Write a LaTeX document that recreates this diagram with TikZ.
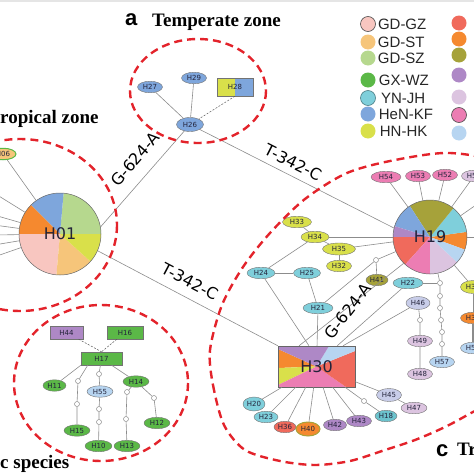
\documentclass[tikz,border=0pt]{standalone}
\usepackage{fontspec}
\setmainfont{Liberation Serif}
\setsansfont{Liberation Sans}
\newfontfamily\hapfont{DejaVu Sans}
\usepackage{tikz}
\usetikzlibrary{shapes.geometric, positioning}
\definecolor{gzpink}{HTML}{F8C6C0}
\definecolor{stpeach}{HTML}{F6C57A}
\definecolor{szgreen}{HTML}{B6D88E}
\definecolor{wzgreen}{HTML}{5BB847}
\definecolor{jhcyan}{HTML}{7FCFDB}
\definecolor{kfblue}{HTML}{7EA6DC}
\definecolor{hkyellow}{HTML}{D9E04A}
\definecolor{popred}{HTML}{F06A5C}
\definecolor{poporange}{HTML}{F5892F}
\definecolor{popolive}{HTML}{A6A23A}
\definecolor{poppurple}{HTML}{AE88C6}
\definecolor{poplilac}{HTML}{DCC4E0}
\definecolor{poppink}{HTML}{EC7DB3}
\definecolor{popsky}{HTML}{B7D5F1}
\definecolor{zonered}{HTML}{E3232B}
\definecolor{linkgray}{HTML}{8C8C8C}
\definecolor{textdark}{HTML}{23233A}

\begin{document}
\begin{tikzpicture}[x=1pt, y=-1pt,
    hap/.style={ellipse, draw=black!55, line width=0.4pt, inner sep=0pt,
      minimum width=25pt, minimum height=11.5pt, text=textdark,
      font=\hapfont\fontsize{7}{7}\selectfont},
    hapbox/.style={hap, rectangle, minimum width=36pt, minimum height=13pt},
    bighap/.style={draw=black!60, line width=0.5pt, inner sep=0pt, text=textdark,
      font=\hapfont\fontsize{16}{16}\selectfont},
    mv/.style={circle, draw=linkgray, fill=white, line width=0.5pt, inner sep=0pt, minimum size=5pt},
    link/.style={draw=linkgray, line width=0.6pt},
    dlink/.style={draw=black!65, line width=0.5pt, dash pattern=on 2pt off 1.5pt},
    zone/.style={draw=zonered, line width=2.4pt, dash pattern=on 8pt off 5pt},
    mut/.style={font=\hapfont\fontsize{16}{16}\selectfont, sloped, inner sep=1pt},
    legdot/.style={circle, inner sep=0pt, minimum size=15pt},
    legtext/.style={inner sep=0pt, text=black!85, font=\sffamily\fontsize{15}{15}\selectfont},
    ztitle/.style={anchor=base west, inner sep=0pt, font=\rmfamily\bfseries\fontsize{19}{19}\selectfont},
    panel/.style={anchor=base west, inner sep=0pt, font=\sffamily\bfseries\fontsize{22}{22}\selectfont}]
  \useasboundingbox (0,0) rectangle (474,474);
  \fill[black!10] (0,0) rectangle (474,2);

  % titles
  \node (ta) [panel] at (125,25) {a};
  \node (ttemp) [ztitle] at (152,26) {Temperate zone};
  \node (ttrop) [ztitle] at (0,123) {ropical zone};
  \node (tend) [ztitle] at (0,468) {c species};
  \node (tc) [panel] at (436,456) {c};
  \node (ttr) [ztitle] at (457,455) {Tr};

  % legend
  \node (lgz) [legdot, fill=gzpink, draw=black!70, line width=0.6pt] at (368,24) {};
  \node (lst) [legdot, fill=stpeach] at (368,42) {};
  \node (lsz) [legdot, fill=szgreen] at (368,58) {};
  \node (lwz) [legdot, fill=wzgreen] at (368,80) {};
  \node (ljh) [legdot, fill=jhcyan, draw=jhcyan!60!black, line width=0.6pt] at (368,98) {};
  \node (lkf) [legdot, fill=kfblue] at (368,114) {};
  \node (lhk) [legdot, fill=hkyellow] at (368,131) {};
  \node [legtext, right=2pt of lgz] {GD-GZ};
  \node [legtext, right=2pt of lst] {GD-ST};
  \node [legtext, right=2pt of lsz] {GD-SZ};
  \node [legtext, right=3pt of lwz] {GX-WZ};
  \node [legtext, right=5pt of ljh] {YN-JH};
  \node [legtext, right=3pt of lkf] {HeN-KF};
  \node [legtext, right=4pt of lhk] {HN-HK};
  \node (ld1) [legdot, fill=popred] at (459,23) {};
  \node (ld2) [legdot, fill=poporange] at (459,39) {};
  \node (ld3) [legdot, fill=popolive] at (459,55) {};
  \node (ld4) [legdot, fill=poppurple] at (459,75) {};
  \node (ld5) [legdot, fill=poplilac] at (459,97) {};
  \node (ld6) [legdot, fill=poppink, draw=black!70, line width=0.6pt] at (459,115) {};
  \node (ld7) [legdot, fill=popsky] at (459,133) {};

  % H01 pie
  \coordinate (c01) at (60,234);
  \fill[szgreen] (c01) -- ++(0:41pt) arc[start angle=0, end angle=85, radius=41pt] -- cycle;
  \fill[kfblue] (c01) -- ++(85:41pt) arc[start angle=85, end angle=135, radius=41pt] -- cycle;
  \fill[poporange] (c01) -- ++(135:41pt) arc[start angle=135, end angle=180, radius=41pt] -- cycle;
  \fill[gzpink] (c01) -- ++(180:41pt) arc[start angle=180, end angle=265, radius=41pt] -- cycle;
  \fill[stpeach] (c01) -- ++(265:41pt) arc[start angle=265, end angle=318, radius=41pt] -- cycle;
  \fill[hkyellow] (c01) -- ++(318:41pt) arc[start angle=318, end angle=360, radius=41pt] -- cycle;
  \node (h01) [bighap, circle, minimum size=82pt] at (c01) {H01};

  % H19 pie
  \coordinate (c19) at (430,237);
  \fill[poporange] (c19) -- ++(-20:37pt) arc[start angle=-20, end angle=8, radius=37pt] -- cycle;
  \fill[jhcyan] (c19) -- ++(8:37pt) arc[start angle=8, end angle=51, radius=37pt] -- cycle;
  \fill[popolive] (c19) -- ++(51:37pt) arc[start angle=51, end angle=123, radius=37pt] -- cycle;
  \fill[kfblue] (c19) -- ++(123:37pt) arc[start angle=123, end angle=163, radius=37pt] -- cycle;
  \fill[poppurple] (c19) -- ++(163:37pt) arc[start angle=163, end angle=180, radius=37pt] -- cycle;
  \fill[popred] (c19) -- ++(180:37pt) arc[start angle=180, end angle=228, radius=37pt] -- cycle;
  \fill[poppink] (c19) -- ++(228:37pt) arc[start angle=228, end angle=270, radius=37pt] -- cycle;
  \fill[poplilac] (c19) -- ++(270:37pt) arc[start angle=270, end angle=317, radius=37pt] -- cycle;
  \fill[popsky] (c19) -- ++(317:37pt) arc[start angle=317, end angle=340, radius=37pt] -- cycle;
  \node (h19) [bighap, circle, minimum size=74pt] at (c19) {H19};

  % H30 box
  \coordinate (c30) at (316.5,366.5);
  \fill[poporange] (c30) -- (278,349) -- (278,368) -- cycle;
  \fill[hkyellow] (c30) -- (278,368) -- (278,385) -- cycle;
  \fill[poppink] (c30) -- (278,385) -- (278,387) -- (346,387) -- cycle;
  \fill[popred] (c30) -- (346,387) -- (355,387) -- (355,351) -- cycle;
  \fill[popsky] (c30) -- (355,351) -- (355,346) -- (329,346) -- cycle;
  \fill[poppurple] (c30) -- (329,346) -- (278,346) -- (278,349) -- cycle;
  \node (h30) [bighap, rectangle, minimum width=77pt, minimum height=41pt] at (c30) {H30};

  % temperate haplotypes
  \node (h27) [hap, fill=kfblue] at (150,87) {H27};
  \node (h29) [hap, fill=kfblue] at (194,78) {H29};
  \fill[hkyellow] (217,78) rectangle (235,96);
  \fill[kfblue] (235,78) rectangle (253,96);
  \node (h28) [hapbox, minimum height=18pt] at (235,87) {H28};
  \node (h26) [hap, fill=kfblue, minimum width=27pt, minimum height=14pt] at (190,124.5) {H26};
  \node (h06) [hap, fill=stpeach, draw=wzgreen, line width=1pt, minimum width=26pt] at (3,154) {H06};

  % around H19
  \node (h54) [hap, fill=poppink, minimum width=30pt] at (386,177) {H54};
  \node (h53) [hap, fill=poppink] at (418,176) {H53};
  \node (h52) [hap, fill=poppink] at (445,175) {H52};
  \node (h51) [hap, fill=poplilac] at (474,176) {H51};
  \node (h31) [hap, fill=hkyellow, minimum height=13pt] at (473,287) {H31};
  \node (h37) [hap, fill=poporange] at (473,318) {H37};
  \node (h50) [hap, fill=popsky] at (473,348) {H50};
  \node (h33) [hap, fill=hkyellow, minimum width=29pt] at (297,222) {H33};
  \node (h34) [hap, fill=hkyellow, minimum width=28pt] at (315,237) {H34};
  \node (h35) [hap, fill=hkyellow, minimum width=33pt, minimum height=12pt] at (339,249) {H35};
  \node (h32) [hap, fill=hkyellow] at (339,266) {H32};
  \node (h24) [hap, fill=jhcyan, minimum width=28pt] at (261,273) {H24};
  \node (h25) [hap, fill=jhcyan, minimum width=27pt] at (307,273) {H25};
  \node (h21) [hap, fill=jhcyan, minimum width=30pt] at (318,308) {H21};
  \node (h41) [hap, fill=popolive, minimum width=22pt] at (377,280) {H41};
  \node (h22) [hap, fill=jhcyan, minimum width=30pt] at (408,283) {H22};
  \node (h46) [hap, fill=popsky!55!poplilac, minimum width=24pt, minimum height=13pt] at (418,303) {H46};
  \node (h49) [hap, fill=poplilac] at (420,341) {H49};
  \node (h48) [hap, fill=poplilac] at (420,374) {H48};
  \node (h57) [hap, fill=popsky] at (442,362) {H57};
  \node (m0) [mv] at (376,260) {};
  \node (m1) [mv] at (440,283) {};
  \node (m2) [mv] at (440,296) {};
  \node (m3) [mv] at (440,308) {};
  \node (m4) [mv] at (441,320) {};
  \node (m5) [mv] at (442,332) {};
  \node (m6) [mv] at (442,344) {};
  \node (m7) [mv] at (420,320) {};

  % around H30
  \node (h20) [hap, fill=jhcyan, minimum width=22pt, minimum height=14pt] at (254,404) {H20};
  \node (h23) [hap, fill=jhcyan, minimum width=24pt] at (266,417) {H23};
  \node (h36) [hap, fill=popred, minimum width=22pt] at (285,427) {H36};
  \node (h40) [hap, fill=poporange, draw=popolive, line width=1pt, minimum width=24pt, minimum height=14pt] at (308,429) {H40};
  \node (h42) [hap, fill=poppurple, minimum width=23pt] at (335,425) {H42};
  \node (h43) [hap, fill=poppurple] at (359,421) {H43};
  \node (m8) [mv] at (364,401) {};
  \node (h18) [hap, fill=jhcyan!85!teal, minimum width=22pt] at (386,416) {H18};
  \node (h45) [hap, fill=popsky!55!poplilac, minimum height=13pt] at (389,395) {H45};
  \node (h47) [hap, fill=poplilac, minimum width=26pt] at (414,408) {H47};

  % endemic species
  \node (h44) [hapbox, fill=poppurple, minimum width=33pt] at (66.5,332.5) {H44};
  \node (h16) [hapbox, fill=wzgreen] at (125,332.5) {H16};
  \node (h17) [hapbox, fill=wzgreen, minimum width=41pt] at (101.5,358.5) {H17};
  \node (h11) [hap, fill=wzgreen, minimum width=23pt] at (54.5,385.5) {H11};
  \node (h55) [hap, fill=popsky, minimum width=26pt] at (100,391.5) {H55};
  \node (h14) [hap, fill=wzgreen, minimum width=26pt] at (136,381.5) {H14};
  \node (h15) [hap, fill=wzgreen, minimum width=26pt] at (77,430.5) {H15};
  \node (h10) [hap, fill=wzgreen, minimum width=27pt] at (98.5,446) {H10};
  \node (h13) [hap, fill=wzgreen, minimum width=26pt] at (127,446) {H13};
  \node (h12) [hap, fill=wzgreen, minimum width=26pt] at (157,423) {H12};
  \node (m9) [mv] at (78,381) {};
  \node (m10) [mv] at (77,404) {};
  \node (m11) [mv] at (99,374) {};
  \node (m12) [mv] at (99,409) {};
  \node (m13) [mv] at (99,422) {};
  \node (m14) [mv] at (127,392) {};
  \node (m15) [mv] at (126,419) {};
  \node (m16) [mv] at (154,398) {};

  % links
  \draw[link] (h01.10) -- node[mut, pos=0.58, above=11pt] {G-624-A} (h26);
  \draw[link] (h01.-24) -- node[mut, pos=0.47, above=8.5pt] {T-342-C} (h30.north west);
  \draw[link] (h26) -- node[mut, pos=0.45, above=5.5pt] {T-342-C} (h19.166);
  \draw[link] (h06) -- (h01);
  \foreach \y [count=\i] in {193,215,225,235,245,257} {
    \coordinate (w\i) at (-6,\y);
    \draw[link] (h01) -- (w\i);
  }
  \draw[link] (h27) -- (h26);
  \draw[link] (h29) -- (h26);
  \draw[dlink] (h28.south) -- (h26);

  \draw[link] (h54) -- (h19);
  \draw[link] (h53) -- (h19);
  \draw[link] (h52) -- (h19);
  \draw[link] (h51) -- (h19);
  \coordinate (e1) at (486,198);
  \coordinate (e2) at (486,237);
  \draw[link] (h19) -- (e1);
  \draw[link] (h19) -- (e2);
  \draw[link] (h19) -- (h31);
  \draw[link] (h31) -- (h37);
  \draw[link, line width=1.5pt] (h37) -- (h50);
  \draw[link] (h33) -- (h34);
  \draw[link] (h34) -- (h35);
  \draw[link] (h35) -- (h32);
  \draw[link] (h34) -- (h19);
  \draw[link] (h35) -- (h19);
  \draw[link] (h24) -- (h34);
  \draw[link] (h24) -- (h25);
  \draw[link] (h25) -- (h21);
  \draw[link] (h24) -- (h30.110);
  \draw[link] (h21) -- (h30);
  \draw[link] (h21) -- (m0);
  \draw[link] (m0) -- (h19);
  \draw[link] (m0) -- (h41);
  \draw[link] (h30.130) -- (h19.225);
  \draw[link] (h30.45) -- (h22);
  \draw[link] (h30.38) -- (h46);
  \draw[link] (h22) -- (m1);
  \draw[link] (h19) -- (m1) -- (m2) -- (m3) -- (m4) -- (m5) -- (m6) -- (h57);
  \draw[link] (h46) -- (m7) -- (h49) -- (h48);

  \draw[link] (h30) -- (h20);
  \draw[link] (h30) -- (h23);
  \draw[link] (h30) -- (h36);
  \draw[link] (h30) -- (h40);
  \draw[link] (h30) -- (h42);
  \draw[link] (h30) -- (h43);
  \draw[link] (h30) -- (m8) -- (h18);
  \draw[link] (h30) -- (h45) -- (h47);
  \node (mut4) [font=\hapfont\fontsize{16}{16}\selectfont, rotate=52, inner sep=0pt] at (348,311) {G-624-A};

  \draw[dlink] (h44) -- (h17.north);
  \draw[dlink] (h16) -- (h17.north);
  \draw[link] (h17.198) -- (h11);
  \draw[link] (h17.206) -- (m9) -- (m10) -- (h15);
  \draw[link] (h17) -- (m11) -- (h55) -- (m12) -- (m13) -- (h10);
  \draw[link] (h17) -- (h14) -- (m14) -- (m15) -- (h13);
  \draw[link] (h14) -- (m16) -- (h12);

  % zones
  \draw[zone] (198,91) ellipse [x radius=68, y radius=52];
  \draw[zone] (20,225) ellipse [x radius=97, y radius=86];
  \draw[zone] (101,383) ellipse [x radius=87, y radius=78];
  \draw[zone] plot[smooth cycle] coordinates {(210,350) (213,385) (224,425) (245,450)
    (280,461) (315,465) (350,461) (385,450) (415,440) (445,427) (471,413) (520,385)
    (555,310) (545,215) (500,165) (450,153) (395,160) (347,173) (305,199) (270,233)
    (243,267) (222,305)};
\end{tikzpicture}
\end{document}
